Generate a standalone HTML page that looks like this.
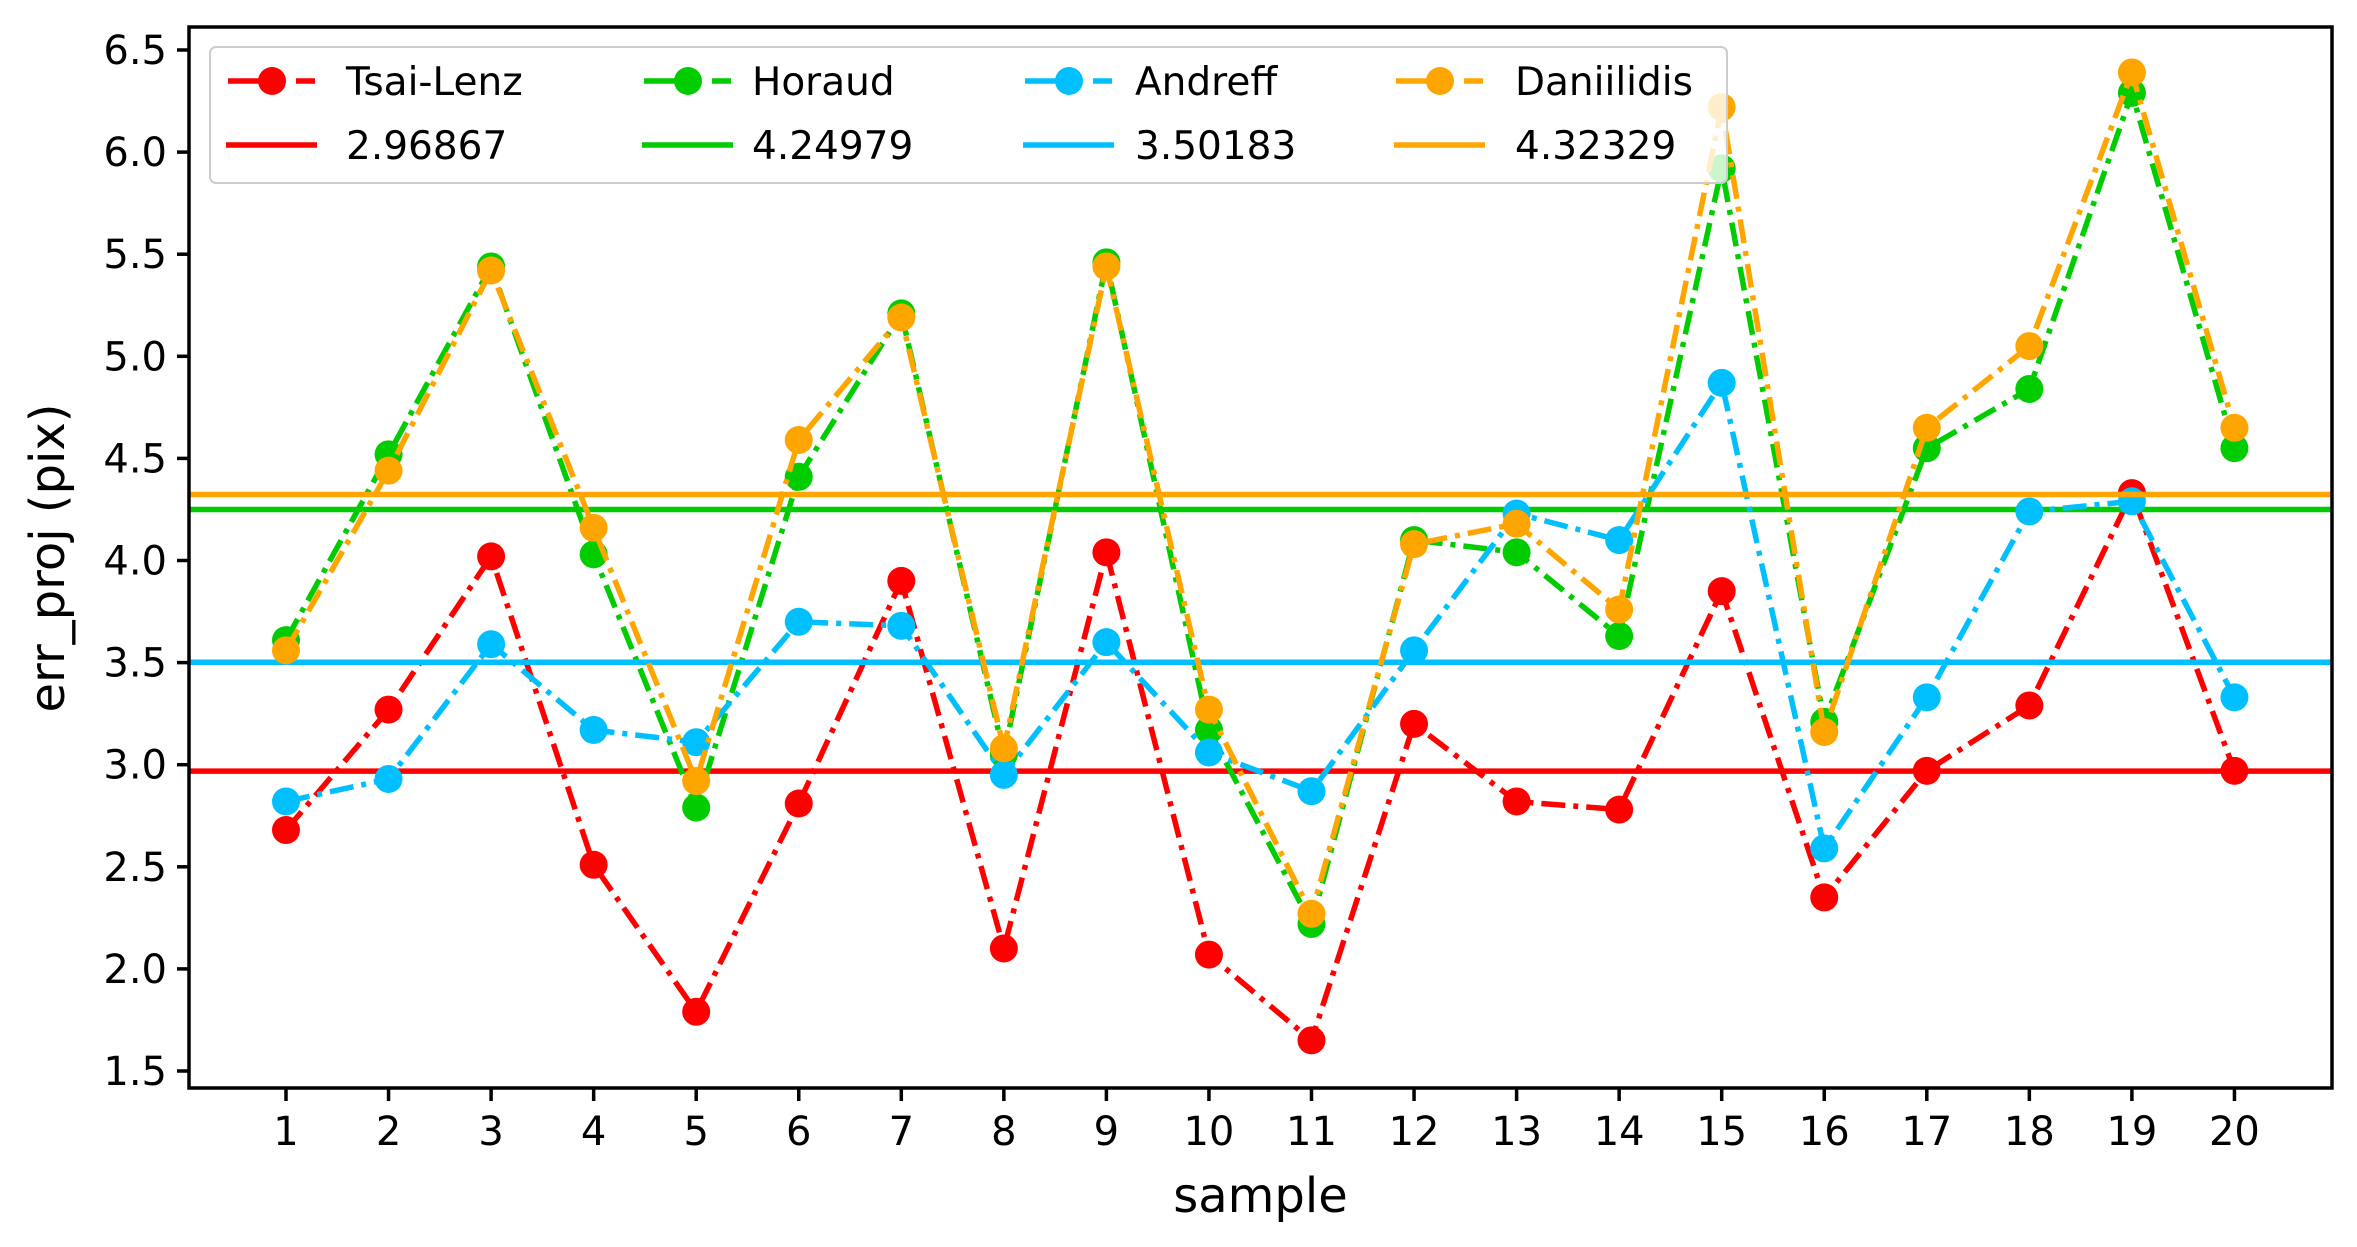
<!DOCTYPE html>
<html><head><meta charset="utf-8"><style>html,body{margin:0;padding:0;background:#fff}svg{display:block}</style></head>
<body>
<svg xmlns="http://www.w3.org/2000/svg" width="2357" height="1247" viewBox="0 0 2357 1247" font-family="'DejaVu Sans','Liberation Sans',sans-serif">
<rect width="2357" height="1247" fill="#fff"/>
<g id="plot"></g>
<script>
(function(){
var NS="http://www.w3.org/2000/svg";
var g=document.getElementById('plot');
function X(i){return 286+(i-1)*102.55;}
function Y(v){return 50+(6.5-v)*204.2;}
function el(t,a,p){var e=document.createElementNS(NS,t);for(var k in a)e.setAttribute(k,a[k]);(p||g).appendChild(e);return e;}
var L=189,R=2332,T=27,B=1088;
var defs=el('clipPath',{id:'c'});el('rect',{x:L,y:T,width:R-L,height:B-T},defs);
var pg=el('g',{'clip-path':'url(#c)'});
var S=[
 ['#ff0000',[2.68,3.27,4.02,2.51,1.79,2.81,3.90,2.10,4.04,2.07,1.65,3.20,2.82,2.78,3.85,2.35,2.97,3.29,4.33,2.97],2.96867,'Tsai-Lenz'],
 ['#00cc00',[3.61,4.52,5.44,4.03,2.79,4.41,5.21,3.05,5.46,3.17,2.22,4.10,4.04,3.63,5.92,3.21,4.55,4.84,6.29,4.55],4.24979,'Horaud'],
 ['#00bfff',[2.82,2.93,3.59,3.17,3.11,3.70,3.68,2.95,3.60,3.06,2.87,3.56,4.23,4.10,4.87,2.59,3.33,4.24,4.29,3.33],3.50183,'Andreff'],
 ['#ffa500',[3.56,4.44,5.42,4.16,2.92,4.59,5.19,3.08,5.44,3.27,2.27,4.08,4.18,3.76,6.22,3.16,4.65,5.05,6.39,4.65],4.32329,'Daniilidis']];
var LW=5.5,MR=14;
S.forEach(function(s){
 var d=s[1].map(function(v,i){return (i?'L':'M')+X(i+1).toFixed(1)+' '+Y(v).toFixed(1);}).join(' ');
 el('path',{d:d,fill:'none',stroke:s[0],'stroke-width':LW,'stroke-dasharray':'24,8,5,8'},pg);
 s[1].forEach(function(v,i){el('circle',{cx:X(i+1),cy:Y(v),r:MR,fill:s[0]},pg);});
 el('line',{x1:L,x2:R,y1:Y(s[2]),y2:Y(s[2]),stroke:s[0],'stroke-width':LW},pg);
});
el('rect',{x:L,y:T,width:R-L,height:B-T,fill:'none',stroke:'#000','stroke-width':3.5});
for(var i=0;i<=10;i++){var v=1.5+i*0.5,y=Y(v);el('line',{x1:L-12,x2:L,y1:y,y2:y,stroke:'#000','stroke-width':3.5});
 var t=el('text',{x:L-22,y:y+14,'font-size':40,'text-anchor':'end',fill:'#000'});t.textContent=v.toFixed(1);}
for(var i=1;i<=20;i++){var x=X(i);el('line',{x1:x,x2:x,y1:B,y2:B+13,stroke:'#000','stroke-width':3.5});
 var t=el('text',{x:x,y:B+57,'font-size':40,'text-anchor':'middle',fill:'#000'});t.textContent=i;}
var t=el('text',{x:(L+R)/2,y:1212,'font-size':48,'text-anchor':'middle'});t.textContent='sample';
t=el('text',{x:0,y:0,'font-size':48,'text-anchor':'middle',transform:'translate(64,558) rotate(-90)'});t.textContent='err_proj (pix)';
el('rect',{x:210,y:47,width:1517,height:136,rx:6,fill:'#fff','fill-opacity':0.8,stroke:'#ccc','stroke-width':2});
var hx=[228,644,1025,1396],tx=[346,752,1135,1515];
S.forEach(function(s,k){
 var y1=81,y2=145,x=hx[k];
 el('line',{x1:x,x2:x+45,y1:y1,y2:y1,stroke:s[0],'stroke-width':LW});
 el('line',{x1:x+68,x2:x+87,y1:y1,y2:y1,stroke:s[0],'stroke-width':LW});
 el('circle',{cx:x+44,cy:y1,r:MR,fill:s[0]});
 el('line',{x1:x-2,x2:x+89,y1:y2,y2:y2,stroke:s[0],'stroke-width':LW});
 var a=el('text',{x:tx[k],y:y1+14,'font-size':39});a.textContent=s[3];
 a=el('text',{x:tx[k],y:y2+14,'font-size':39});a.textContent=s[2].toString();
});
})();
</script>
</svg>
</body></html>
